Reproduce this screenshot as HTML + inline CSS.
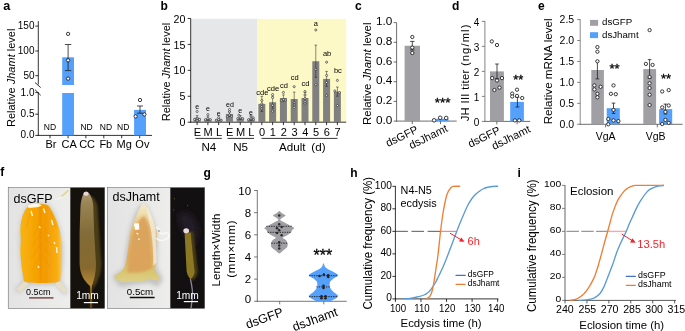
<!DOCTYPE html><html><head><meta charset="utf-8"><title>Figure</title>
<style>html,body{margin:0;padding:0;background:#fff}svg{display:block}text{font-family:'Liberation Sans', Arial, sans-serif}</style></head><body>
<svg width="685" height="331" viewBox="0 0 685 331">
<rect width="685" height="331" fill="#fff"/>
<g id="pa">
<text x="3.3" y="9.7" font-size="12.6" font-weight="bold">a</text>
<line x1="38.3" y1="21.1" x2="38.3" y2="84.6" stroke="#000" stroke-width="0.8"/>
<line x1="38.3" y1="92.2" x2="38.3" y2="135.8" stroke="#000" stroke-width="0.8"/>
<line x1="35.0" y1="82.5" x2="40.699999999999996" y2="87.6" stroke="#000" stroke-width="0.8"/>
<line x1="35.0" y1="89.7" x2="40.699999999999996" y2="95.3" stroke="#000" stroke-width="0.8"/>
<line x1="37.9" y1="135.4" x2="152" y2="135.4" stroke="#000" stroke-width="0.8"/>
<line x1="35.3" y1="26.1" x2="38.3" y2="26.1" stroke="#000" stroke-width="0.8"/>
<text x="34.5" y="29.0" font-size="10" text-anchor="end">150</text>
<line x1="35.3" y1="51" x2="38.3" y2="51" stroke="#000" stroke-width="0.8"/>
<text x="34.5" y="53.9" font-size="10" text-anchor="end">100</text>
<line x1="35.3" y1="75.7" x2="38.3" y2="75.7" stroke="#000" stroke-width="0.8"/>
<text x="34.5" y="78.60000000000001" font-size="10" text-anchor="end">50</text>
<line x1="35.3" y1="92.6" x2="38.3" y2="92.6" stroke="#000" stroke-width="0.8"/>
<text x="34.5" y="95.5" font-size="10" text-anchor="end">1.0</text>
<line x1="35.3" y1="114.2" x2="38.3" y2="114.2" stroke="#000" stroke-width="0.8"/>
<text x="34.5" y="117.10000000000001" font-size="10" text-anchor="end">0.5</text>
<line x1="35.3" y1="135.4" x2="38.3" y2="135.4" stroke="#000" stroke-width="0.8"/>
<text x="34.5" y="138.3" font-size="10" text-anchor="end">0.0</text>
<line x1="50" y1="135.4" x2="50" y2="138.3" stroke="#000" stroke-width="0.8"/>
<line x1="68.06" y1="135.4" x2="68.06" y2="138.3" stroke="#000" stroke-width="0.8"/>
<line x1="85.9" y1="135.4" x2="85.9" y2="138.3" stroke="#000" stroke-width="0.8"/>
<line x1="103.8" y1="135.4" x2="103.8" y2="138.3" stroke="#000" stroke-width="0.8"/>
<line x1="121.7" y1="135.4" x2="121.7" y2="138.3" stroke="#000" stroke-width="0.8"/>
<line x1="139.7" y1="135.4" x2="139.7" y2="138.3" stroke="#000" stroke-width="0.8"/>
<text x="50.9" y="148.3" font-size="11" text-anchor="middle">Br</text>
<text x="69.2" y="148.3" font-size="11" text-anchor="middle">CA</text>
<text x="87.1" y="148.3" font-size="11" text-anchor="middle">CC</text>
<text x="105.8" y="148.3" font-size="11" text-anchor="middle">Fb</text>
<text x="124.2" y="148.3" font-size="11" text-anchor="middle">Mg</text>
<text x="142.4" y="148.3" font-size="11" text-anchor="middle">Ov</text>
<text x="50" y="129.9" font-size="8.5" text-anchor="middle">ND</text>
<text x="86.6" y="129.9" font-size="8.5" text-anchor="middle">ND</text>
<text x="106" y="129.9" font-size="8.5" text-anchor="middle">ND</text>
<text x="123.2" y="129.9" font-size="8.5" text-anchor="middle">ND</text>
<rect x="62.20" y="57.30" width="11.80" height="27.70" fill="#54a0fb"/>
<rect x="62.20" y="93.00" width="11.80" height="42.40" fill="#54a0fb"/>
<line x1="68.1" y1="44.5" x2="68.1" y2="70.6" stroke="#1f1f1f" stroke-width="0.8"/>
<line x1="64.89999999999999" y1="44.5" x2="71.3" y2="44.5" stroke="#1f1f1f" stroke-width="0.8"/>
<line x1="64.89999999999999" y1="70.6" x2="71.3" y2="70.6" stroke="#1f1f1f" stroke-width="0.8"/>
<circle cx="68.1" cy="33.9" r="1.65" fill="#fff" stroke="#1a1a1a" stroke-width="0.85"/>
<circle cx="68.1" cy="60.3" r="1.65" fill="#fff" stroke="#1a1a1a" stroke-width="0.85"/>
<circle cx="68.1" cy="78.6" r="1.65" fill="#fff" stroke="#1a1a1a" stroke-width="0.85"/>
<rect x="134.10" y="109.90" width="11.90" height="25.50" fill="#54a0fb"/>
<line x1="140" y1="106" x2="140" y2="113.2" stroke="#1f1f1f" stroke-width="0.8"/>
<line x1="137" y1="106" x2="143" y2="106" stroke="#1f1f1f" stroke-width="0.8"/>
<line x1="137" y1="113.2" x2="143" y2="113.2" stroke="#1f1f1f" stroke-width="0.8"/>
<circle cx="140.0" cy="100.0" r="1.65" fill="#fff" stroke="#1a1a1a" stroke-width="0.85"/>
<circle cx="135.6" cy="116.4" r="1.65" fill="#fff" stroke="#1a1a1a" stroke-width="0.85"/>
<circle cx="144.4" cy="114.4" r="1.65" fill="#fff" stroke="#1a1a1a" stroke-width="0.85"/>
<text x="14.6" y="77.8" font-size="11" text-anchor="middle" transform="rotate(-90 14.6 77.8)">Relative <tspan font-style="italic">Jhamt</tspan> level</text>
</g>
<g id="pb">
<text x="160.5" y="9.6" font-size="12" font-weight="bold">b</text>
<rect x="190.70" y="18.80" width="66.30" height="103.40" fill="#e6e7e9"/>
<rect x="257.00" y="18.80" width="89.10" height="103.40" fill="#fdf9c6"/>
<line x1="190.7" y1="18.4" x2="190.7" y2="122.60000000000001" stroke="#000" stroke-width="0.8"/>
<line x1="190.29999999999998" y1="122.2" x2="346.2" y2="122.2" stroke="#000" stroke-width="0.8"/>
<line x1="187.7" y1="122.2" x2="190.7" y2="122.2" stroke="#000" stroke-width="0.8"/>
<text transform="translate(185.50 126.35) scale(1.07 1)" font-size="10" text-anchor="end">0</text>
<line x1="187.7" y1="96.27000000000001" x2="190.7" y2="96.27000000000001" stroke="#000" stroke-width="0.8"/>
<text transform="translate(185.50 100.42) scale(1.07 1)" font-size="10" text-anchor="end">5</text>
<line x1="187.7" y1="70.34" x2="190.7" y2="70.34" stroke="#000" stroke-width="0.8"/>
<text transform="translate(185.50 74.49) scale(1.07 1)" font-size="10" text-anchor="end">10</text>
<line x1="187.7" y1="44.41000000000001" x2="190.7" y2="44.41000000000001" stroke="#000" stroke-width="0.8"/>
<text transform="translate(185.50 48.56) scale(1.07 1)" font-size="10" text-anchor="end">15</text>
<line x1="187.7" y1="18.480000000000004" x2="190.7" y2="18.480000000000004" stroke="#000" stroke-width="0.8"/>
<text transform="translate(185.50 22.63) scale(1.07 1)" font-size="10" text-anchor="end">20</text>
<rect x="193.60" y="117.80" width="7.00" height="4.40" fill="#808080"/>
<line x1="197.1" y1="115.6" x2="197.1" y2="120.0" stroke="#2a2a2a" stroke-width="0.55"/>
<line x1="195.79999999999998" y1="115.6" x2="198.4" y2="115.6" stroke="#2a2a2a" stroke-width="0.55"/>
<line x1="195.79999999999998" y1="120.0" x2="198.4" y2="120.0" stroke="#2a2a2a" stroke-width="0.55"/>
<circle cx="197.1" cy="111.5" r="1.05" fill="#f4f4f4" stroke="#2a2a2a" stroke-width="0.65"/>
<circle cx="194.7" cy="119.6" r="1.05" fill="#f4f4f4" stroke="#2a2a2a" stroke-width="0.65"/>
<circle cx="197.1" cy="118.2" r="1.05" fill="#f4f4f4" stroke="#2a2a2a" stroke-width="0.65"/>
<circle cx="199.5" cy="119.6" r="1.05" fill="#f4f4f4" stroke="#2a2a2a" stroke-width="0.65"/>
<circle cx="197.1" cy="120.6" r="1.05" fill="#f4f4f4" stroke="#2a2a2a" stroke-width="0.65"/>
<line x1="197.1" y1="122.2" x2="197.1" y2="125.10000000000001" stroke="#000" stroke-width="0.8"/>
<text x="197.4" y="135.8" font-size="11" text-anchor="middle">E</text>
<text x="197.1" y="109.10000000000001" font-size="7" text-anchor="middle">e</text>
<rect x="204.39" y="118.50" width="7.00" height="3.70" fill="#808080"/>
<line x1="207.89" y1="116.7" x2="207.89" y2="120.3" stroke="#2a2a2a" stroke-width="0.55"/>
<line x1="206.58999999999997" y1="116.7" x2="209.19" y2="116.7" stroke="#2a2a2a" stroke-width="0.55"/>
<line x1="206.58999999999997" y1="120.3" x2="209.19" y2="120.3" stroke="#2a2a2a" stroke-width="0.55"/>
<circle cx="207.9" cy="114.6" r="1.05" fill="#f4f4f4" stroke="#2a2a2a" stroke-width="0.65"/>
<circle cx="205.5" cy="119.8" r="1.05" fill="#f4f4f4" stroke="#2a2a2a" stroke-width="0.65"/>
<circle cx="207.9" cy="118.6" r="1.05" fill="#f4f4f4" stroke="#2a2a2a" stroke-width="0.65"/>
<circle cx="210.3" cy="119.8" r="1.05" fill="#f4f4f4" stroke="#2a2a2a" stroke-width="0.65"/>
<line x1="207.89" y1="122.2" x2="207.89" y2="125.10000000000001" stroke="#000" stroke-width="0.8"/>
<text x="208.19" y="135.8" font-size="11" text-anchor="middle">M</text>
<text x="207.89" y="111.10000000000001" font-size="7" text-anchor="middle">e</text>
<rect x="215.18" y="119.20" width="7.00" height="3.00" fill="#808080"/>
<line x1="218.68" y1="118.0" x2="218.68" y2="120.4" stroke="#2a2a2a" stroke-width="0.55"/>
<line x1="217.38" y1="118.0" x2="219.98000000000002" y2="118.0" stroke="#2a2a2a" stroke-width="0.55"/>
<line x1="217.38" y1="120.4" x2="219.98000000000002" y2="120.4" stroke="#2a2a2a" stroke-width="0.55"/>
<circle cx="218.7" cy="117.6" r="1.05" fill="#f4f4f4" stroke="#2a2a2a" stroke-width="0.65"/>
<circle cx="216.3" cy="120.2" r="1.05" fill="#f4f4f4" stroke="#2a2a2a" stroke-width="0.65"/>
<circle cx="218.7" cy="119.6" r="1.05" fill="#f4f4f4" stroke="#2a2a2a" stroke-width="0.65"/>
<circle cx="221.1" cy="120.2" r="1.05" fill="#f4f4f4" stroke="#2a2a2a" stroke-width="0.65"/>
<line x1="218.68" y1="122.2" x2="218.68" y2="125.10000000000001" stroke="#000" stroke-width="0.8"/>
<text x="218.98000000000002" y="135.8" font-size="11" text-anchor="middle">L</text>
<text x="218.68" y="116.0" font-size="7" text-anchor="middle">e</text>
<rect x="225.97" y="113.90" width="7.00" height="8.30" fill="#808080"/>
<line x1="229.47" y1="111.30000000000001" x2="229.47" y2="116.5" stroke="#2a2a2a" stroke-width="0.55"/>
<line x1="228.17" y1="111.30000000000001" x2="230.77" y2="111.30000000000001" stroke="#2a2a2a" stroke-width="0.55"/>
<line x1="228.17" y1="116.5" x2="230.77" y2="116.5" stroke="#2a2a2a" stroke-width="0.55"/>
<circle cx="229.5" cy="109.4" r="1.05" fill="#f4f4f4" stroke="#2a2a2a" stroke-width="0.65"/>
<circle cx="229.5" cy="111.8" r="1.05" fill="#f4f4f4" stroke="#2a2a2a" stroke-width="0.65"/>
<circle cx="227.3" cy="116.8" r="1.05" fill="#f4f4f4" stroke="#2a2a2a" stroke-width="0.65"/>
<circle cx="231.7" cy="116.2" r="1.05" fill="#f4f4f4" stroke="#2a2a2a" stroke-width="0.65"/>
<circle cx="229.5" cy="115.0" r="1.05" fill="#f4f4f4" stroke="#2a2a2a" stroke-width="0.65"/>
<line x1="229.47" y1="122.2" x2="229.47" y2="125.10000000000001" stroke="#000" stroke-width="0.8"/>
<text x="229.77" y="135.8" font-size="11" text-anchor="middle">E</text>
<text x="229.97" y="107.2" font-size="7" text-anchor="middle">ed</text>
<rect x="236.76" y="117.50" width="7.00" height="4.70" fill="#808080"/>
<line x1="240.26" y1="115.5" x2="240.26" y2="119.5" stroke="#2a2a2a" stroke-width="0.55"/>
<line x1="238.95999999999998" y1="115.5" x2="241.56" y2="115.5" stroke="#2a2a2a" stroke-width="0.55"/>
<line x1="238.95999999999998" y1="119.5" x2="241.56" y2="119.5" stroke="#2a2a2a" stroke-width="0.55"/>
<circle cx="238.8" cy="115.2" r="1.05" fill="#f4f4f4" stroke="#2a2a2a" stroke-width="0.65"/>
<circle cx="237.9" cy="118.6" r="1.05" fill="#f4f4f4" stroke="#2a2a2a" stroke-width="0.65"/>
<circle cx="240.3" cy="117.8" r="1.05" fill="#f4f4f4" stroke="#2a2a2a" stroke-width="0.65"/>
<circle cx="242.7" cy="118.8" r="1.05" fill="#f4f4f4" stroke="#2a2a2a" stroke-width="0.65"/>
<line x1="240.26" y1="122.2" x2="240.26" y2="125.10000000000001" stroke="#000" stroke-width="0.8"/>
<text x="240.56" y="135.8" font-size="11" text-anchor="middle">M</text>
<text x="240.26" y="113.2" font-size="7" text-anchor="middle">e</text>
<rect x="247.55" y="118.50" width="7.00" height="3.70" fill="#808080"/>
<line x1="251.04999999999998" y1="116.3" x2="251.04999999999998" y2="120.7" stroke="#2a2a2a" stroke-width="0.55"/>
<line x1="249.74999999999997" y1="116.3" x2="252.35" y2="116.3" stroke="#2a2a2a" stroke-width="0.55"/>
<line x1="249.74999999999997" y1="120.7" x2="252.35" y2="120.7" stroke="#2a2a2a" stroke-width="0.55"/>
<circle cx="251.0" cy="116.0" r="1.05" fill="#f4f4f4" stroke="#2a2a2a" stroke-width="0.65"/>
<circle cx="253.2" cy="117.8" r="1.05" fill="#f4f4f4" stroke="#2a2a2a" stroke-width="0.65"/>
<circle cx="248.6" cy="119.8" r="1.05" fill="#f4f4f4" stroke="#2a2a2a" stroke-width="0.65"/>
<circle cx="253.4" cy="119.8" r="1.05" fill="#f4f4f4" stroke="#2a2a2a" stroke-width="0.65"/>
<circle cx="251.0" cy="118.8" r="1.05" fill="#f4f4f4" stroke="#2a2a2a" stroke-width="0.65"/>
<line x1="251.04999999999998" y1="122.2" x2="251.04999999999998" y2="125.10000000000001" stroke="#000" stroke-width="0.8"/>
<text x="251.35" y="135.8" font-size="11" text-anchor="middle">L</text>
<text x="251.04999999999998" y="114.60000000000001" font-size="7" text-anchor="middle">e</text>
<rect x="258.34" y="103.90" width="7.00" height="18.30" fill="#808080"/>
<line x1="261.84" y1="96.30000000000001" x2="261.84" y2="111.5" stroke="#2a2a2a" stroke-width="0.55"/>
<line x1="260.53999999999996" y1="96.30000000000001" x2="263.14" y2="96.30000000000001" stroke="#2a2a2a" stroke-width="0.55"/>
<line x1="260.53999999999996" y1="111.5" x2="263.14" y2="111.5" stroke="#2a2a2a" stroke-width="0.55"/>
<circle cx="261.8" cy="100.4" r="1.05" fill="#f4f4f4" stroke="#2a2a2a" stroke-width="0.65"/>
<circle cx="261.8" cy="103.9" r="1.05" fill="#f4f4f4" stroke="#2a2a2a" stroke-width="0.65"/>
<circle cx="261.8" cy="106.4" r="1.05" fill="#f4f4f4" stroke="#2a2a2a" stroke-width="0.65"/>
<circle cx="261.8" cy="108.8" r="1.05" fill="#f4f4f4" stroke="#2a2a2a" stroke-width="0.65"/>
<line x1="261.84" y1="122.2" x2="261.84" y2="125.10000000000001" stroke="#000" stroke-width="0.8"/>
<text x="262.14" y="135.8" font-size="11" text-anchor="middle">0</text>
<text x="262.34" y="94.60000000000001" font-size="7.5" text-anchor="middle">cde</text>
<rect x="269.13" y="102.20" width="7.00" height="20.00" fill="#808080"/>
<line x1="272.63" y1="96.2" x2="272.63" y2="108.2" stroke="#2a2a2a" stroke-width="0.55"/>
<line x1="271.33" y1="96.2" x2="273.93" y2="96.2" stroke="#2a2a2a" stroke-width="0.55"/>
<line x1="271.33" y1="108.2" x2="273.93" y2="108.2" stroke="#2a2a2a" stroke-width="0.55"/>
<circle cx="272.6" cy="94.6" r="1.05" fill="#f4f4f4" stroke="#2a2a2a" stroke-width="0.65"/>
<circle cx="272.6" cy="97.6" r="1.05" fill="#f4f4f4" stroke="#2a2a2a" stroke-width="0.65"/>
<circle cx="272.6" cy="105.3" r="1.05" fill="#f4f4f4" stroke="#2a2a2a" stroke-width="0.65"/>
<circle cx="272.6" cy="111.2" r="1.05" fill="#f4f4f4" stroke="#2a2a2a" stroke-width="0.65"/>
<line x1="272.63" y1="122.2" x2="272.63" y2="125.10000000000001" stroke="#000" stroke-width="0.8"/>
<text x="272.93" y="135.8" font-size="11" text-anchor="middle">1</text>
<text x="273.13" y="90.80000000000001" font-size="7.5" text-anchor="middle">cde</text>
<rect x="279.92" y="98.00" width="7.00" height="24.20" fill="#808080"/>
<line x1="283.41999999999996" y1="94.9" x2="283.41999999999996" y2="101.1" stroke="#2a2a2a" stroke-width="0.55"/>
<line x1="282.11999999999995" y1="94.9" x2="284.71999999999997" y2="94.9" stroke="#2a2a2a" stroke-width="0.55"/>
<line x1="282.11999999999995" y1="101.1" x2="284.71999999999997" y2="101.1" stroke="#2a2a2a" stroke-width="0.55"/>
<circle cx="283.4" cy="92.4" r="1.05" fill="#f4f4f4" stroke="#2a2a2a" stroke-width="0.65"/>
<circle cx="281.3" cy="100.8" r="1.05" fill="#f4f4f4" stroke="#2a2a2a" stroke-width="0.65"/>
<circle cx="283.4" cy="99.7" r="1.05" fill="#f4f4f4" stroke="#2a2a2a" stroke-width="0.65"/>
<circle cx="285.5" cy="100.0" r="1.05" fill="#f4f4f4" stroke="#2a2a2a" stroke-width="0.65"/>
<line x1="283.41999999999996" y1="122.2" x2="283.41999999999996" y2="125.10000000000001" stroke="#000" stroke-width="0.8"/>
<text x="283.71999999999997" y="135.8" font-size="11" text-anchor="middle">2</text>
<text x="283.91999999999996" y="88.4" font-size="7.5" text-anchor="middle">cd</text>
<rect x="290.71" y="99.00" width="7.00" height="23.20" fill="#808080"/>
<line x1="294.21" y1="92.1" x2="294.21" y2="105.9" stroke="#2a2a2a" stroke-width="0.55"/>
<line x1="292.90999999999997" y1="92.1" x2="295.51" y2="92.1" stroke="#2a2a2a" stroke-width="0.55"/>
<line x1="292.90999999999997" y1="105.9" x2="295.51" y2="105.9" stroke="#2a2a2a" stroke-width="0.55"/>
<circle cx="294.2" cy="86.7" r="1.05" fill="#f4f4f4" stroke="#2a2a2a" stroke-width="0.65"/>
<circle cx="294.2" cy="102.8" r="1.05" fill="#f4f4f4" stroke="#2a2a2a" stroke-width="0.65"/>
<circle cx="294.2" cy="105.0" r="1.05" fill="#f4f4f4" stroke="#2a2a2a" stroke-width="0.65"/>
<circle cx="294.2" cy="107.4" r="1.05" fill="#f4f4f4" stroke="#2a2a2a" stroke-width="0.65"/>
<line x1="294.21" y1="122.2" x2="294.21" y2="125.10000000000001" stroke="#000" stroke-width="0.8"/>
<text x="294.51" y="135.8" font-size="11" text-anchor="middle">3</text>
<text x="294.71" y="80.4" font-size="7.5" text-anchor="middle">cd</text>
<rect x="301.50" y="98.00" width="7.00" height="24.20" fill="#808080"/>
<line x1="305.0" y1="92.5" x2="305.0" y2="103.5" stroke="#2a2a2a" stroke-width="0.55"/>
<line x1="303.7" y1="92.5" x2="306.3" y2="92.5" stroke="#2a2a2a" stroke-width="0.55"/>
<line x1="303.7" y1="103.5" x2="306.3" y2="103.5" stroke="#2a2a2a" stroke-width="0.55"/>
<circle cx="305.0" cy="91.5" r="1.05" fill="#f4f4f4" stroke="#2a2a2a" stroke-width="0.65"/>
<circle cx="305.0" cy="95.0" r="1.05" fill="#f4f4f4" stroke="#2a2a2a" stroke-width="0.65"/>
<circle cx="305.0" cy="98.5" r="1.05" fill="#f4f4f4" stroke="#2a2a2a" stroke-width="0.65"/>
<circle cx="305.0" cy="101.4" r="1.05" fill="#f4f4f4" stroke="#2a2a2a" stroke-width="0.65"/>
<circle cx="305.0" cy="103.9" r="1.05" fill="#f4f4f4" stroke="#2a2a2a" stroke-width="0.65"/>
<line x1="305.0" y1="122.2" x2="305.0" y2="125.10000000000001" stroke="#000" stroke-width="0.8"/>
<text x="305.3" y="135.8" font-size="11" text-anchor="middle">4</text>
<text x="305.5" y="85.7" font-size="7.5" text-anchor="middle">cd</text>
<rect x="312.29" y="61.25" width="7.00" height="60.95" fill="#808080"/>
<line x1="315.78999999999996" y1="45.15" x2="315.78999999999996" y2="77.35" stroke="#2a2a2a" stroke-width="0.55"/>
<line x1="314.48999999999995" y1="45.15" x2="317.09" y2="45.15" stroke="#2a2a2a" stroke-width="0.55"/>
<line x1="314.48999999999995" y1="77.35" x2="317.09" y2="77.35" stroke="#2a2a2a" stroke-width="0.55"/>
<circle cx="315.8" cy="30.0" r="1.05" fill="#f4f4f4" stroke="#2a2a2a" stroke-width="0.65"/>
<circle cx="315.8" cy="69.3" r="1.05" fill="#f4f4f4" stroke="#2a2a2a" stroke-width="0.65"/>
<circle cx="315.8" cy="84.6" r="1.05" fill="#f4f4f4" stroke="#2a2a2a" stroke-width="0.65"/>
<line x1="315.78999999999996" y1="122.2" x2="315.78999999999996" y2="125.10000000000001" stroke="#000" stroke-width="0.8"/>
<text x="316.09" y="135.8" font-size="11" text-anchor="middle">5</text>
<text x="315.78999999999996" y="26.0" font-size="7.5" text-anchor="middle">a</text>
<rect x="323.08" y="78.90" width="7.00" height="43.30" fill="#808080"/>
<line x1="326.58" y1="71.4" x2="326.58" y2="86.4" stroke="#2a2a2a" stroke-width="0.55"/>
<line x1="325.28" y1="71.4" x2="327.88" y2="71.4" stroke="#2a2a2a" stroke-width="0.55"/>
<line x1="325.28" y1="86.4" x2="327.88" y2="86.4" stroke="#2a2a2a" stroke-width="0.55"/>
<circle cx="326.6" cy="62.2" r="1.05" fill="#f4f4f4" stroke="#2a2a2a" stroke-width="0.65"/>
<circle cx="326.6" cy="75.5" r="1.05" fill="#f4f4f4" stroke="#2a2a2a" stroke-width="0.65"/>
<circle cx="326.6" cy="82.5" r="1.05" fill="#f4f4f4" stroke="#2a2a2a" stroke-width="0.65"/>
<circle cx="326.6" cy="95.3" r="1.05" fill="#f4f4f4" stroke="#2a2a2a" stroke-width="0.65"/>
<line x1="326.58" y1="122.2" x2="326.58" y2="125.10000000000001" stroke="#000" stroke-width="0.8"/>
<text x="326.88" y="135.8" font-size="11" text-anchor="middle">6</text>
<text x="327.08" y="56.15" font-size="7.5" text-anchor="middle">ab</text>
<rect x="333.87" y="91.60" width="7.00" height="30.60" fill="#808080"/>
<line x1="337.37" y1="87.0" x2="337.37" y2="96.19999999999999" stroke="#2a2a2a" stroke-width="0.55"/>
<line x1="336.07" y1="87.0" x2="338.67" y2="87.0" stroke="#2a2a2a" stroke-width="0.55"/>
<line x1="336.07" y1="96.19999999999999" x2="338.67" y2="96.19999999999999" stroke="#2a2a2a" stroke-width="0.55"/>
<circle cx="337.4" cy="80.4" r="1.05" fill="#f4f4f4" stroke="#2a2a2a" stroke-width="0.65"/>
<circle cx="334.8" cy="91.0" r="1.05" fill="#f4f4f4" stroke="#2a2a2a" stroke-width="0.65"/>
<circle cx="339.4" cy="92.7" r="1.05" fill="#f4f4f4" stroke="#2a2a2a" stroke-width="0.65"/>
<circle cx="337.4" cy="105.5" r="1.05" fill="#f4f4f4" stroke="#2a2a2a" stroke-width="0.65"/>
<line x1="337.37" y1="122.2" x2="337.37" y2="125.10000000000001" stroke="#000" stroke-width="0.8"/>
<text x="337.67" y="135.8" font-size="11" text-anchor="middle">7</text>
<text x="337.87" y="73.2" font-size="7.5" text-anchor="middle">bc</text>
<line x1="195.4" y1="138.4" x2="221.8" y2="138.4" stroke="#000" stroke-width="0.8"/>
<line x1="227.5" y1="138.4" x2="254" y2="138.4" stroke="#000" stroke-width="0.8"/>
<line x1="261.5" y1="138.4" x2="337.5" y2="138.4" stroke="#000" stroke-width="0.8"/>
<text x="208.8" y="150.5" font-size="11.6" text-anchor="middle">N4</text>
<text x="240.6" y="150.5" font-size="11.6" text-anchor="middle">N5</text>
<text x="302.3" y="150.5" font-size="11.6" text-anchor="middle" word-spacing="2.6">Adult (d)</text>
<text x="170.4" y="72" font-size="11" text-anchor="middle" transform="rotate(-90 170.4 72)">Relative <tspan font-style="italic">Jhamt</tspan> level</text>
</g>
<g id="pc">
<text x="355" y="9.6" font-size="12" font-weight="bold">c</text>
<line x1="396.6" y1="22.7" x2="396.6" y2="121.5" stroke="#4a4a4a" stroke-width="0.8"/>
<line x1="396.20000000000005" y1="121.1" x2="456.7" y2="121.1" stroke="#4a4a4a" stroke-width="0.8"/>
<line x1="393.6" y1="121.1" x2="396.6" y2="121.1" stroke="#4a4a4a" stroke-width="0.8"/>
<text transform="translate(392.40 123.6) scale(1.12 1)" font-size="10.5" text-anchor="end">0.0</text>
<line x1="393.6" y1="101.39999999999999" x2="396.6" y2="101.39999999999999" stroke="#4a4a4a" stroke-width="0.8"/>
<text transform="translate(392.40 103.9) scale(1.12 1)" font-size="10.5" text-anchor="end">0.2</text>
<line x1="393.6" y1="81.69999999999999" x2="396.6" y2="81.69999999999999" stroke="#4a4a4a" stroke-width="0.8"/>
<text transform="translate(392.40 84.2) scale(1.12 1)" font-size="10.5" text-anchor="end">0.4</text>
<line x1="393.6" y1="62.00000000000001" x2="396.6" y2="62.00000000000001" stroke="#4a4a4a" stroke-width="0.8"/>
<text transform="translate(392.40 64.5) scale(1.12 1)" font-size="10.5" text-anchor="end">0.6</text>
<line x1="393.6" y1="42.3" x2="396.6" y2="42.3" stroke="#4a4a4a" stroke-width="0.8"/>
<text transform="translate(392.40 44.8) scale(1.12 1)" font-size="10.5" text-anchor="end">0.8</text>
<line x1="393.6" y1="22.60000000000001" x2="396.6" y2="22.60000000000001" stroke="#4a4a4a" stroke-width="0.8"/>
<text transform="translate(392.40 25.1) scale(1.12 1)" font-size="10.5" text-anchor="end">1.0</text>
<rect x="404.60" y="45.75" width="15.40" height="75.35" fill="#a0a0a4"/>
<line x1="412.3" y1="41.4" x2="412.3" y2="50" stroke="#1f1f1f" stroke-width="0.8"/>
<line x1="410.1" y1="41.4" x2="414.5" y2="41.4" stroke="#1f1f1f" stroke-width="0.8"/>
<line x1="410.1" y1="50" x2="414.5" y2="50" stroke="#1f1f1f" stroke-width="0.8"/>
<circle cx="412.3" cy="37.0" r="1.65" fill="#fff" stroke="#1a1a1a" stroke-width="0.85"/>
<circle cx="412.3" cy="47.6" r="1.65" fill="#fff" stroke="#1a1a1a" stroke-width="0.85"/>
<circle cx="412.3" cy="53.0" r="1.65" fill="#fff" stroke="#1a1a1a" stroke-width="0.85"/>
<rect x="436.10" y="118.80" width="12.40" height="2.30" fill="#54a0fb"/>
<circle cx="434.1" cy="120.3" r="1.8" fill="#fff" stroke="#1a1a1a" stroke-width="0.85"/>
<circle cx="440.2" cy="117.8" r="1.8" fill="#fff" stroke="#1a1a1a" stroke-width="0.85"/>
<circle cx="446.2" cy="118.0" r="1.8" fill="#fff" stroke="#1a1a1a" stroke-width="0.85"/>
<line x1="412.3" y1="121.1" x2="412.3" y2="124.1" stroke="#4a4a4a" stroke-width="0.8"/>
<line x1="440.5" y1="121.1" x2="440.5" y2="124.1" stroke="#4a4a4a" stroke-width="0.8"/>
<text x="442.6" y="107.3" font-size="13.5" text-anchor="middle" stroke="#000" stroke-width="0.3">***</text>
<text x="418.8" y="132" font-size="11" text-anchor="end" transform="rotate(-26 418.8 132)">dsGFP</text>
<text x="448.6" y="131" font-size="11" text-anchor="end" transform="rotate(-26 448.6 131)">dsJhamt</text>
<text transform="translate(371.2 73.75) rotate(-90) scale(0.995 1)" font-size="11.5" text-anchor="middle">Relative <tspan font-style="italic">Jhamt</tspan> level</text>
</g>
<g id="pd">
<text x="452" y="9.6" font-size="12" font-weight="bold">d</text>
<line x1="484.9" y1="21.1" x2="484.9" y2="121.80000000000001" stroke="#666" stroke-width="0.8"/>
<line x1="484.5" y1="121.4" x2="530.2" y2="121.4" stroke="#4a4a4a" stroke-width="0.8"/>
<line x1="481.9" y1="121.4" x2="484.9" y2="121.4" stroke="#666" stroke-width="0.8"/>
<text x="479.29999999999995" y="125.75" font-size="10" text-anchor="end">0</text>
<line x1="481.9" y1="96.4" x2="484.9" y2="96.4" stroke="#666" stroke-width="0.8"/>
<text x="479.29999999999995" y="100.75" font-size="10" text-anchor="end">1</text>
<line x1="481.9" y1="71.4" x2="484.9" y2="71.4" stroke="#666" stroke-width="0.8"/>
<text x="479.29999999999995" y="75.75" font-size="10" text-anchor="end">2</text>
<line x1="481.9" y1="46.400000000000006" x2="484.9" y2="46.400000000000006" stroke="#666" stroke-width="0.8"/>
<text x="479.29999999999995" y="50.75" font-size="10" text-anchor="end">3</text>
<line x1="481.9" y1="21.400000000000006" x2="484.9" y2="21.400000000000006" stroke="#666" stroke-width="0.8"/>
<text x="479.29999999999995" y="25.75" font-size="10" text-anchor="end">4</text>
<rect x="490.00" y="71.40" width="13.90" height="50.00" fill="#a0a0a4"/>
<line x1="497" y1="64" x2="497" y2="78.6" stroke="#1f1f1f" stroke-width="0.8"/>
<line x1="495.2" y1="64" x2="498.8" y2="64" stroke="#1f1f1f" stroke-width="0.8"/>
<line x1="495.2" y1="78.6" x2="498.8" y2="78.6" stroke="#1f1f1f" stroke-width="0.8"/>
<circle cx="491.8" cy="41.4" r="1.65" fill="#fff" stroke="#1a1a1a" stroke-width="0.85"/>
<circle cx="497.0" cy="45.0" r="1.65" fill="#fff" stroke="#1a1a1a" stroke-width="0.85"/>
<circle cx="492.2" cy="78.1" r="1.65" fill="#fff" stroke="#1a1a1a" stroke-width="0.85"/>
<circle cx="497.0" cy="80.5" r="1.65" fill="#fff" stroke="#1a1a1a" stroke-width="0.85"/>
<circle cx="502.0" cy="78.1" r="1.65" fill="#fff" stroke="#1a1a1a" stroke-width="0.85"/>
<circle cx="494.4" cy="90.0" r="1.65" fill="#fff" stroke="#1a1a1a" stroke-width="0.85"/>
<circle cx="499.5" cy="87.6" r="1.65" fill="#fff" stroke="#1a1a1a" stroke-width="0.85"/>
<rect x="510.20" y="101.90" width="13.70" height="19.50" fill="#54a0fb"/>
<line x1="517.4" y1="97.3" x2="517.4" y2="107" stroke="#1f1f1f" stroke-width="0.8"/>
<line x1="515.4" y1="97.3" x2="519.4" y2="97.3" stroke="#1f1f1f" stroke-width="0.8"/>
<line x1="515.4" y1="107" x2="519.4" y2="107" stroke="#1f1f1f" stroke-width="0.8"/>
<circle cx="517.0" cy="89.7" r="1.65" fill="#fff" stroke="#1a1a1a" stroke-width="0.85"/>
<circle cx="512.2" cy="93.6" r="1.65" fill="#fff" stroke="#1a1a1a" stroke-width="0.85"/>
<circle cx="512.2" cy="96.5" r="1.65" fill="#fff" stroke="#1a1a1a" stroke-width="0.85"/>
<circle cx="517.0" cy="95.9" r="1.65" fill="#fff" stroke="#1a1a1a" stroke-width="0.85"/>
<circle cx="522.2" cy="98.0" r="1.65" fill="#fff" stroke="#1a1a1a" stroke-width="0.85"/>
<circle cx="514.9" cy="120.4" r="1.65" fill="#fff" stroke="#1a1a1a" stroke-width="0.85"/>
<circle cx="519.2" cy="120.4" r="1.65" fill="#fff" stroke="#1a1a1a" stroke-width="0.85"/>
<line x1="496.8" y1="121.4" x2="496.8" y2="124.4" stroke="#4a4a4a" stroke-width="0.8"/>
<line x1="517.1" y1="121.4" x2="517.1" y2="124.4" stroke="#4a4a4a" stroke-width="0.8"/>
<text x="518.2" y="83.6" font-size="13" text-anchor="middle" stroke="#000" stroke-width="0.3">**</text>
<text x="501" y="132.8" font-size="11" text-anchor="end" transform="rotate(-26 501 132.8)">dsGFP</text>
<text x="531.3" y="131.7" font-size="11" text-anchor="end" transform="rotate(-26 531.3 131.7)">dsJhamt</text>
<text x="469.4" y="72.4" font-size="11.2" text-anchor="middle" transform="rotate(-90 469.4 72.4)" letter-spacing="0.33">JH III titer <tspan letter-spacing="1.1">(ng/ml)</tspan></text>
</g>
<g id="pe">
<text x="538" y="9.6" font-size="12" font-weight="bold">e</text>
<line x1="580.2" y1="19.1" x2="580.2" y2="124.7" stroke="#8c8c8c" stroke-width="1.0"/>
<line x1="579.8000000000001" y1="124.3" x2="682.7" y2="124.3" stroke="#4a4a4a" stroke-width="0.8"/>
<line x1="577.2" y1="124.3" x2="580.2" y2="124.3" stroke="#666" stroke-width="0.8"/>
<text transform="translate(574.20 127.9) scale(1.05 1)" font-size="10" text-anchor="end">0.0</text>
<line x1="577.2" y1="103.35" x2="580.2" y2="103.35" stroke="#666" stroke-width="0.8"/>
<text transform="translate(574.20 106.95) scale(1.05 1)" font-size="10" text-anchor="end">0.5</text>
<line x1="577.2" y1="82.4" x2="580.2" y2="82.4" stroke="#666" stroke-width="0.8"/>
<text transform="translate(574.20 86.0) scale(1.05 1)" font-size="10" text-anchor="end">1.0</text>
<line x1="577.2" y1="61.45" x2="580.2" y2="61.45" stroke="#666" stroke-width="0.8"/>
<text transform="translate(574.20 65.05) scale(1.05 1)" font-size="10" text-anchor="end">1.5</text>
<line x1="577.2" y1="40.5" x2="580.2" y2="40.5" stroke="#666" stroke-width="0.8"/>
<text transform="translate(574.20 44.1) scale(1.05 1)" font-size="10" text-anchor="end">2.0</text>
<line x1="577.2" y1="19.549999999999997" x2="580.2" y2="19.549999999999997" stroke="#666" stroke-width="0.8"/>
<text transform="translate(574.20 23.15) scale(1.05 1)" font-size="10" text-anchor="end">2.5</text>
<rect x="591.30" y="70.00" width="12.60" height="54.30" fill="#a0a0a4"/>
<rect x="606.70" y="108.20" width="13.10" height="16.10" fill="#54a0fb"/>
<rect x="643.30" y="69.10" width="12.80" height="55.20" fill="#a0a0a4"/>
<rect x="659.10" y="109.10" width="13.10" height="15.20" fill="#54a0fb"/>
<line x1="597.4" y1="61.3" x2="597.4" y2="78.9" stroke="#1f1f1f" stroke-width="0.8"/>
<line x1="595.6" y1="61.3" x2="599.1999999999999" y2="61.3" stroke="#1f1f1f" stroke-width="0.8"/>
<line x1="595.6" y1="78.9" x2="599.1999999999999" y2="78.9" stroke="#1f1f1f" stroke-width="0.8"/>
<line x1="613.5" y1="103.1" x2="613.5" y2="113.4" stroke="#1f1f1f" stroke-width="0.8"/>
<line x1="611.7" y1="103.1" x2="615.3" y2="103.1" stroke="#1f1f1f" stroke-width="0.8"/>
<line x1="611.7" y1="113.4" x2="615.3" y2="113.4" stroke="#1f1f1f" stroke-width="0.8"/>
<line x1="649.6" y1="59.6" x2="649.6" y2="78.5" stroke="#1f1f1f" stroke-width="0.8"/>
<line x1="647.8000000000001" y1="59.6" x2="651.4" y2="59.6" stroke="#1f1f1f" stroke-width="0.8"/>
<line x1="647.8000000000001" y1="78.5" x2="651.4" y2="78.5" stroke="#1f1f1f" stroke-width="0.8"/>
<line x1="665.4" y1="104.1" x2="665.4" y2="114" stroke="#1f1f1f" stroke-width="0.8"/>
<line x1="663.6" y1="104.1" x2="667.1999999999999" y2="104.1" stroke="#1f1f1f" stroke-width="0.8"/>
<line x1="663.6" y1="114" x2="667.1999999999999" y2="114" stroke="#1f1f1f" stroke-width="0.8"/>
<circle cx="597.4" cy="47.1" r="1.65" fill="#fff" stroke="#1a1a1a" stroke-width="0.85"/>
<circle cx="597.4" cy="51.7" r="1.65" fill="#fff" stroke="#1a1a1a" stroke-width="0.85"/>
<circle cx="597.4" cy="61.3" r="1.65" fill="#fff" stroke="#1a1a1a" stroke-width="0.85"/>
<circle cx="594.4" cy="85.4" r="1.65" fill="#fff" stroke="#1a1a1a" stroke-width="0.85"/>
<circle cx="600.6" cy="86.8" r="1.65" fill="#fff" stroke="#1a1a1a" stroke-width="0.85"/>
<circle cx="594.4" cy="89.4" r="1.65" fill="#fff" stroke="#1a1a1a" stroke-width="0.85"/>
<circle cx="597.4" cy="93.8" r="1.65" fill="#fff" stroke="#1a1a1a" stroke-width="0.85"/>
<circle cx="597.4" cy="97.3" r="1.65" fill="#fff" stroke="#1a1a1a" stroke-width="0.85"/>
<circle cx="613.5" cy="85.4" r="1.65" fill="#fff" stroke="#1a1a1a" stroke-width="0.85"/>
<circle cx="610.9" cy="93.8" r="1.65" fill="#fff" stroke="#1a1a1a" stroke-width="0.85"/>
<circle cx="615.8" cy="94.2" r="1.65" fill="#fff" stroke="#1a1a1a" stroke-width="0.85"/>
<circle cx="613.5" cy="109.9" r="1.65" fill="#fff" stroke="#1a1a1a" stroke-width="0.85"/>
<circle cx="608.3" cy="119.0" r="1.65" fill="#fff" stroke="#1a1a1a" stroke-width="0.85"/>
<circle cx="613.5" cy="120.4" r="1.65" fill="#fff" stroke="#1a1a1a" stroke-width="0.85"/>
<circle cx="618.4" cy="121.1" r="1.65" fill="#fff" stroke="#1a1a1a" stroke-width="0.85"/>
<circle cx="608.3" cy="124.3" r="1.65" fill="#fff" stroke="#1a1a1a" stroke-width="0.85"/>
<circle cx="649.6" cy="30.1" r="1.65" fill="#fff" stroke="#1a1a1a" stroke-width="0.85"/>
<circle cx="645.9" cy="63.9" r="1.65" fill="#fff" stroke="#1a1a1a" stroke-width="0.85"/>
<circle cx="652.6" cy="64.9" r="1.65" fill="#fff" stroke="#1a1a1a" stroke-width="0.85"/>
<circle cx="649.6" cy="77.0" r="1.65" fill="#fff" stroke="#1a1a1a" stroke-width="0.85"/>
<circle cx="649.6" cy="83.3" r="1.65" fill="#fff" stroke="#1a1a1a" stroke-width="0.85"/>
<circle cx="649.6" cy="88.0" r="1.65" fill="#fff" stroke="#1a1a1a" stroke-width="0.85"/>
<circle cx="649.6" cy="94.7" r="1.65" fill="#fff" stroke="#1a1a1a" stroke-width="0.85"/>
<circle cx="649.6" cy="105.0" r="1.65" fill="#fff" stroke="#1a1a1a" stroke-width="0.85"/>
<circle cx="662.2" cy="91.5" r="1.65" fill="#fff" stroke="#1a1a1a" stroke-width="0.85"/>
<circle cx="668.7" cy="90.1" r="1.65" fill="#fff" stroke="#1a1a1a" stroke-width="0.85"/>
<circle cx="662.2" cy="107.4" r="1.65" fill="#fff" stroke="#1a1a1a" stroke-width="0.85"/>
<circle cx="668.7" cy="105.5" r="1.65" fill="#fff" stroke="#1a1a1a" stroke-width="0.85"/>
<circle cx="665.4" cy="111.9" r="1.65" fill="#fff" stroke="#1a1a1a" stroke-width="0.85"/>
<circle cx="665.4" cy="119.9" r="1.65" fill="#fff" stroke="#1a1a1a" stroke-width="0.85"/>
<circle cx="662.2" cy="124.0" r="1.65" fill="#fff" stroke="#1a1a1a" stroke-width="0.85"/>
<circle cx="668.7" cy="122.9" r="1.65" fill="#fff" stroke="#1a1a1a" stroke-width="0.85"/>
<line x1="605.6" y1="124.3" x2="605.6" y2="127.3" stroke="#4a4a4a" stroke-width="0.8"/>
<line x1="657.3" y1="124.3" x2="657.3" y2="127.3" stroke="#4a4a4a" stroke-width="0.8"/>
<text x="605.6" y="139.7" font-size="10.5" text-anchor="middle">VgA</text>
<text x="655.6" y="139.7" font-size="10.5" text-anchor="middle">VgB</text>
<text x="614.6" y="73.1" font-size="13" text-anchor="middle" stroke="#000" stroke-width="0.3">**</text>
<text x="666.1" y="82.8" font-size="13" text-anchor="middle" stroke="#000" stroke-width="0.3">**</text>
<rect x="590.00" y="19.90" width="8.10" height="5.90" fill="#a0a0a4"/>
<rect x="590.00" y="32.20" width="8.10" height="5.90" fill="#54a0fb"/>
<text x="602" y="25.4" font-size="9.7">dsGFP</text>
<text x="602" y="37.8" font-size="9.7">dsJhamt</text>
<text transform="translate(551.9 71.4) rotate(-90) scale(0.985 1)" font-size="11.8" text-anchor="middle">Relative mRNA level</text>
</g>
<g id="pf">
<defs>
<filter id="b1" x="-30%" y="-30%" width="160%" height="160%"><feGaussianBlur stdDeviation="1.1"/></filter>
<filter id="b2" x="-30%" y="-30%" width="160%" height="160%"><feGaussianBlur stdDeviation="2"/></filter>
<filter id="b3" x="-30%" y="-30%" width="160%" height="160%"><feGaussianBlur stdDeviation="3"/></filter>
<filter id="b05" x="-30%" y="-30%" width="160%" height="160%"><feGaussianBlur stdDeviation="0.55"/></filter>
<linearGradient id="gBg" x1="0" y1="0" x2="1" y2="0"><stop offset="0" stop-color="#e3e3e3"/><stop offset="1" stop-color="#ededec"/></linearGradient>
<linearGradient id="gOr" x1="0" y1="0" x2="1" y2="0"><stop offset="0" stop-color="#f8b408"/><stop offset="0.35" stop-color="#f6a306"/><stop offset="0.6" stop-color="#f39a04"/><stop offset="0.88" stop-color="#f8ae10"/><stop offset="1" stop-color="#f3c864"/></linearGradient>
<linearGradient id="gOl" x1="0" y1="0" x2="0" y2="1"><stop offset="0" stop-color="#b09a78"/><stop offset="0.1" stop-color="#9a8454"/><stop offset="0.35" stop-color="#826c38"/><stop offset="0.65" stop-color="#86692e"/><stop offset="0.8" stop-color="#b58834"/><stop offset="0.83" stop-color="#8a6420"/><stop offset="1" stop-color="#6e4c16"/></linearGradient>
<linearGradient id="gPk" x1="0" y1="0" x2="0" y2="1"><stop offset="0" stop-color="#f1ead0"/><stop offset="0.12" stop-color="#efe0b0"/><stop offset="0.3" stop-color="#e6c27a"/><stop offset="0.7" stop-color="#deae62"/><stop offset="0.86" stop-color="#d9c570"/><stop offset="1" stop-color="#ddd08a"/></linearGradient>
<clipPath id="c1"><rect x="8.2" y="187.6" width="62.1" height="120.8"/></clipPath>
<clipPath id="c2"><rect x="70.3" y="187.6" width="34.4" height="120.8"/></clipPath>
<clipPath id="c3"><rect x="107.6" y="187.6" width="62.7" height="120.8"/></clipPath>
<clipPath id="c4"><rect x="170.3" y="187.6" width="34.4" height="120.8"/></clipPath>
</defs>
<text x="0.3" y="175.5" font-size="12" font-weight="bold">f</text>
<rect x="8.20" y="187.60" width="62.10" height="120.80" fill="url(#gBg)"/>
<g clip-path="url(#c1)">
<path d="M29 205 C34 202.5 44 202.5 48 204.5 C54 210 60 224 62 240 C64 252 63 268 61 281 L68 292 L64 295 L56 285 L28 285 L19 293 L15 289 L23 281 C21 268 19.5 252 19.5 236 C19.5 224 23 211 29 205Z" fill="#bdbdbd" filter="url(#b2)" opacity="0.8"/>
<path d="M24 281 L16.5 289 L19.5 292.5 L29 284Z M59.5 280 L67.5 291 L64 293.5 L55 284Z" fill="#e6dfc6" filter="url(#b05)"/>
<path d="M29 205.6 C33 203.8 43 203.6 47 205 C49.5 206 51.5 210 53.5 214 C55.5 218 57.5 223 59 228 C60 231 60.3 234 60.7 237 C62.8 248 62.5 266 60 281.5 C52 283.5 32 283.5 24 281.5 C22 270 20.2 258 20.4 249 C20.6 244 21.2 241 20.6 236 C20.2 230 20.4 224 21.6 219.5 C22.8 214.5 25 209 29 205.6Z" fill="url(#gOr)" filter="url(#b05)"/>
<path d="M40 206 C40.5 230 41 258 41.5 282" stroke="#e88c02" stroke-width="2.2" fill="none" filter="url(#b1)" opacity="0.8"/>
<path d="M41 222 L33 236 M41 232 L32 247 M41.3 243 L31 259 M41.5 254 L32 270 M41 222 L49 235 M41.2 232 L51 246 M41.4 243 L52 258 M41.6 254 L51 269 M30 214 L26 228 M51 213 L56 228" stroke="#ee9402" stroke-width="1" fill="none" opacity="0.55" filter="url(#b05)"/>
<path d="M28 205.5 C32 203 40 203.5 42 205.5 C38 207.5 32 208 28 207.5Z" fill="#fff8e6" filter="url(#b05)"/>
<path d="M61.2 196.5 C63 195 66 193.5 68.3 190.3" stroke="#e6d28a" stroke-width="1.5" fill="none" filter="url(#b05)"/><path d="M55 199.5 C58 199 60 198.5 62 197" stroke="#f6f6f0" stroke-width="1.2" fill="none" filter="url(#b05)"/>
<path d="M31 211 L32.5 216 M43.5 208.5 L45 213 M51.5 220 L53 225 M39 226.5 L40.5 228 M48 235 L49 236 M54 242 L55 244 M56.5 247 L57 253 M38 266 L39 268" stroke="#fff6d0" stroke-width="1.4" fill="none" filter="url(#b05)"/>
</g>
<text x="13.6" y="202.5" font-size="12.5">dsGFP</text>
<text x="26" y="295" font-size="9">0.5cm</text>
<line x1="29.1" y1="297.9" x2="53.5" y2="297.9" stroke="#6a3232" stroke-width="1.3"/>
<rect x="70.30" y="187.60" width="34.40" height="120.80" fill="#15110d"/>
<g clip-path="url(#c2)">
<path d="M90 196 C93 196 96.5 200 97.6 207 L99.2 233 L101.4 264 C101.4 272 99 279 95 286 L92.5 290 L88 250Z" fill="#4b3d17" filter="url(#b1)"/>
<path d="M90 284 L92.6 284 L92.8 308.4 L89.6 308.4Z" fill="#3a2a0c" filter="url(#b1)"/>
<path d="M86 191.6 C89 191.8 92.5 197 93.3 206 L94.2 233 L96 264 C96 272 94.5 279 92 286 L91.7 308.4 L90.3 308.4 L90 286 C84 281 80 274 79.6 264 L79.6 233 L80.4 208 C81 198 83.5 192 86 191.6Z" fill="url(#gOl)" filter="url(#b05)"/>
<ellipse cx="86" cy="193.7" rx="2.6" ry="2" fill="#ead6d8" filter="url(#b05)"/>
</g>
<text x="76.2" y="299.3" font-size="10.2" fill="#fff">1mm</text>
<line x1="83.8" y1="302.6" x2="98" y2="302.6" stroke="#fff" stroke-width="1.2"/>
<rect x="107.60" y="187.60" width="62.70" height="120.80" fill="url(#gBg)"/>
<g clip-path="url(#c3)">
<path d="M144 204 C150 210 156 224 157.5 240 L157 268 L163 279 L158 287 L148 283 L132 285 L120 287 L112 277 L124 268 C126 250 128 232 134 216 C137 209 141 203 144 204Z" fill="#bcbcbc" filter="url(#b2)" opacity="0.85"/>
<path d="M143.7 203.2 C146 205 149.5 210.5 151.5 215 C154 221 156 227 156.8 233 C156.3 245 155.5 258 154.6 270 C156.5 273 159 276.5 160 279.5 C157 282 152 278.5 148 279.5 C142 283 132 281 124 282.5 C119 281.5 115 279 114.3 276 C118 273.5 121.5 272 123.5 269 C126.5 263 127 257 128.3 248 C129.2 240 129.5 236 130.1 233 C131 229 132.5 225 133.5 223 C135 219 137.5 213 139.3 209 C140.5 206.5 142.3 204 143.7 203.2Z" fill="url(#gPk)" filter="url(#b05)"/>
<path d="M143.4 216 C146 217.5 148.8 223 150 232 L152 268 C146 272.5 134 273.5 127 272.5 C128.6 262 129.6 252 130.6 244 C131.4 238 131.8 235 132.6 233 C134.2 227 140 219 143.4 216Z" fill="#dba25c" opacity="0.92" filter="url(#b1)"/>
<path d="M146.5 206.5 C150 211 153.5 219 155.5 228 L156.6 262 L153.2 266 C153.4 250 152.5 236 150 225 C148.6 218.5 147 212 146.5 206.5Z" fill="#f1eee2" opacity="0.8" filter="url(#b05)"/>
<path d="M156 227 C160 228 159 232 161 234 C164 234 168 231 169 235 C169.5 239 164 240.5 160.5 240.5 C158.5 240.5 157.5 239 156.5 238" stroke="#f7f7f5" stroke-width="1.7" fill="none" filter="url(#b05)"/><circle cx="159" cy="231" r="0.7" fill="#556"/>
<path d="M134.6 224.2 L138.4 223.8 L138.8 229 L135.6 229.4Z M136.6 233 L138.2 234.4 M138.6 238.5 L139.2 240" fill="#fffdf4" stroke="#fffdf4" stroke-width="1.2" stroke-linejoin="round" filter="url(#b05)"/>
</g>
<text x="112.5" y="201" font-size="12.5">dsJhamt</text>
<text x="126.8" y="295" font-size="9.7">0.5cm</text>
<line x1="129.8" y1="297.5" x2="154.6" y2="297.5" stroke="#0c0c0c" stroke-width="1.5"/>
<rect x="170.30" y="187.60" width="34.40" height="120.80" fill="#131011"/>
<g clip-path="url(#c4)">
<path d="M178 215 C184 209 194 212 198 228 C199 236 196 244 192 246 C186 240 180 228 178 215Z" fill="#211d27" filter="url(#b3)"/>
<path d="M189 231 L193.4 232 L196 255 L197.8 272 C197 276 195 279 192.6 281 L189.5 272Z" fill="#4a3c12" filter="url(#b1)"/>
<path d="M184.6 233 L190.6 232.5 L192.8 255 L194.6 272 C194 276 192 278 190.6 279.2 C188.5 277 187 274 186.6 271 L185.6 252Z" fill="#8c7824" filter="url(#b05)"/>
<path d="M190.4 279 C192 286 193 292 192.4 297 C192 302 191.4 305 191 308.4" stroke="#8a849c" stroke-width="1.3" fill="none" filter="url(#b05)"/>
<ellipse cx="186.2" cy="230.7" rx="2.9" ry="2.5" fill="#eadde2" filter="url(#b05)"/>
<circle cx="174.4" cy="198.8" r="0.6" fill="#6a5a2a"/><circle cx="187.6" cy="205.4" r="0.6" fill="#5a4a22"/><circle cx="173.6" cy="209.8" r="0.6" fill="#5a4c26"/>
</g>
<text x="176.2" y="298.9" font-size="10.2" fill="#fff">1mm</text>
<line x1="183.8" y1="301.6" x2="198" y2="301.6" stroke="#fff" stroke-width="1.2"/>
<rect x="8.2" y="187.6" width="96.5" height="120.8" fill="none" stroke="#555" stroke-width="0.5"/><rect x="107.6" y="187.6" width="97.1" height="120.8" fill="none" stroke="#555" stroke-width="0.5"/>
</g>
<g id="pg">
<text x="203.5" y="177" font-size="12" font-weight="bold">g</text>
<line x1="257.3" y1="190.1" x2="257.3" y2="301.7" stroke="#555" stroke-width="0.8"/>
<line x1="256.90000000000003" y1="301.3" x2="346.8" y2="301.3" stroke="#555" stroke-width="0.8"/>
<line x1="254.10000000000002" y1="301.3" x2="257.3" y2="301.3" stroke="#555" stroke-width="0.8"/>
<text x="251.10000000000002" y="303.2" font-size="11.5" text-anchor="end">0</text>
<line x1="254.10000000000002" y1="279.14" x2="257.3" y2="279.14" stroke="#555" stroke-width="0.8"/>
<text x="251.10000000000002" y="283.44" font-size="11.5" text-anchor="end">2</text>
<line x1="254.10000000000002" y1="256.98" x2="257.3" y2="256.98" stroke="#555" stroke-width="0.8"/>
<text x="251.10000000000002" y="261.28" font-size="11.5" text-anchor="end">4</text>
<line x1="254.10000000000002" y1="234.82" x2="257.3" y2="234.82" stroke="#555" stroke-width="0.8"/>
<text x="251.10000000000002" y="239.12" font-size="11.5" text-anchor="end">6</text>
<line x1="254.10000000000002" y1="212.66000000000003" x2="257.3" y2="212.66000000000003" stroke="#555" stroke-width="0.8"/>
<text x="251.10000000000002" y="216.96" font-size="11.5" text-anchor="end">8</text>
<line x1="254.10000000000002" y1="190.5" x2="257.3" y2="190.5" stroke="#555" stroke-width="0.8"/>
<text x="251.10000000000002" y="194.8" font-size="11.5" text-anchor="end">10</text>
<line x1="279.7" y1="301.3" x2="279.7" y2="304.3" stroke="#555" stroke-width="0.8"/>
<line x1="323.8" y1="301.3" x2="323.8" y2="304.3" stroke="#555" stroke-width="0.8"/>
<path d="M279.1 211.0 C278.8 211.2 277.7 212.4 276.9 213.0 C276.1 213.6 273.0 215.0 273.0 215.6 C273.0 216.2 276.0 217.5 276.7 218.0 C277.4 218.5 278.6 219.4 278.4 219.9 C278.2 220.4 276.1 221.4 275.0 222.0 C273.9 222.6 270.8 224.3 269.5 225.0 C268.2 225.7 264.8 227.3 264.4 227.9 C264.0 228.5 266.0 229.4 266.4 230.0 C266.8 230.6 267.1 231.9 267.7 232.5 C268.3 233.1 270.0 234.3 271.0 235.0 C272.0 235.7 275.7 237.2 275.9 237.8 C276.1 238.4 273.3 239.3 272.7 240.0 C272.1 240.7 271.2 242.3 271.0 243.2 C270.8 244.1 270.9 246.2 271.4 247.0 C271.9 247.8 273.7 249.2 274.7 250.0 C275.7 250.8 278.6 253.2 279.1 253.6 L279.5 253.6 C280.1 253.2 282.9 250.8 283.9 250.0 C284.9 249.2 286.7 247.8 287.2 247.0 C287.7 246.2 287.8 244.1 287.6 243.2 C287.4 242.3 286.5 240.7 285.9 240.0 C285.3 239.3 282.5 238.4 282.7 237.8 C282.9 237.2 286.6 235.7 287.6 235.0 C288.6 234.3 290.3 233.1 290.9 232.5 C291.5 231.9 291.8 230.6 292.2 230.0 C292.6 229.4 294.6 228.5 294.2 227.9 C293.8 227.3 290.4 225.7 289.1 225.0 C287.8 224.3 284.7 222.6 283.6 222.0 C282.5 221.4 280.4 220.4 280.2 219.9 C280.0 219.4 281.2 218.5 281.9 218.0 C282.6 217.5 285.6 216.2 285.6 215.6 C285.6 215.0 282.5 213.6 281.7 213.0 C280.9 212.4 279.8 211.2 279.5 211.0Z" fill="#a0a0a4"/>
<line x1="266.3" y1="226.3" x2="292.3" y2="226.3" stroke="#222" stroke-width="0.9" stroke-dasharray="1.4 1"/>
<line x1="267.7" y1="232.3" x2="290.90000000000003" y2="232.3" stroke="#222" stroke-width="0.9" stroke-dasharray="1.4 1"/>
<line x1="271.3" y1="243.2" x2="287.3" y2="243.2" stroke="#222" stroke-width="0.9" stroke-dasharray="1.4 1"/>
<circle cx="279.2" cy="215.6" r="1.25" fill="#2a2a2a"/>
<circle cx="279.2" cy="224.3" r="1.25" fill="#2a2a2a"/>
<circle cx="281.6" cy="226.9" r="1.25" fill="#2a2a2a"/>
<circle cx="277" cy="228.3" r="1.25" fill="#2a2a2a"/>
<circle cx="279.2" cy="230.3" r="1.25" fill="#2a2a2a"/>
<circle cx="277" cy="232.9" r="1.25" fill="#2a2a2a"/>
<circle cx="281.6" cy="235.3" r="1.25" fill="#2a2a2a"/>
<circle cx="279.2" cy="242.3" r="1.25" fill="#2a2a2a"/>
<circle cx="279.2" cy="245.4" r="1.25" fill="#2a2a2a"/>
<circle cx="279.2" cy="248.6" r="1.25" fill="#2a2a2a"/>
<path d="M323.3 263.3 C323.2 263.6 322.6 265.4 322.3 266.0 C322.0 266.6 321.7 267.3 320.8 268.0 C319.9 268.7 316.2 270.6 314.9 271.3 C313.6 272.0 311.4 273.0 310.7 273.5 C309.9 274.0 308.5 274.8 308.9 275.4 C309.2 276.0 312.5 277.8 313.5 278.6 C314.5 279.4 316.5 281.0 317.0 282.0 C317.5 283.0 317.3 285.7 317.2 286.6 C317.1 287.5 316.6 288.3 316.1 289.0 C315.6 289.7 314.2 291.2 313.5 291.9 C312.8 292.6 310.7 293.9 310.1 294.5 C309.5 295.1 308.6 295.8 308.9 296.4 C309.2 297.0 311.7 298.6 312.7 299.2 C313.7 299.8 316.2 301.0 316.7 301.3 L330.3 301.3 C330.8 301.0 333.3 299.8 334.3 299.2 C335.3 298.6 337.8 297.0 338.1 296.4 C338.4 295.8 337.5 295.1 336.9 294.5 C336.3 293.9 334.2 292.6 333.5 291.9 C332.8 291.2 331.4 289.7 330.9 289.0 C330.4 288.3 329.9 287.5 329.8 286.6 C329.7 285.7 329.5 283.0 330.0 282.0 C330.5 281.0 332.5 279.4 333.5 278.6 C334.5 277.8 337.8 276.0 338.1 275.4 C338.5 274.8 337.1 274.0 336.3 273.5 C335.6 273.0 333.4 272.0 332.1 271.3 C330.8 270.6 327.1 268.7 326.2 268.0 C325.3 267.3 325.0 266.6 324.7 266.0 C324.4 265.4 323.8 263.6 323.7 263.3Z" fill="#54a0fb"/>
<line x1="309.1" y1="275.7" x2="337.9" y2="275.7" stroke="#222" stroke-width="0.9" stroke-dasharray="1.4 1"/>
<line x1="316.3" y1="286.9" x2="330.7" y2="286.9" stroke="#222" stroke-width="0.9" stroke-dasharray="1.4 1"/>
<line x1="309.1" y1="296.6" x2="337.9" y2="296.6" stroke="#222" stroke-width="0.9" stroke-dasharray="1.4 1"/>
<circle cx="319.5" cy="276" r="1.3" fill="#222"/>
<circle cx="323.9" cy="274.6" r="1.3" fill="#222"/>
<circle cx="328.2" cy="275.3" r="1.3" fill="#222"/>
<circle cx="328.2" cy="277" r="1.3" fill="#222"/>
<circle cx="323.5" cy="285.7" r="1.3" fill="#222"/>
<circle cx="323.5" cy="287.9" r="1.3" fill="#222"/>
<circle cx="321.5" cy="296.3" r="1.3" fill="#222"/>
<circle cx="321.5" cy="298.3" r="1.3" fill="#222"/>
<circle cx="325.5" cy="296.3" r="1.3" fill="#222"/>
<circle cx="325.5" cy="298.3" r="1.3" fill="#222"/>
<text x="322.8" y="261" font-size="16" text-anchor="middle" stroke="#000" stroke-width="0.3">***</text>
<text x="284" y="315.5" font-size="12.5" text-anchor="end" transform="rotate(-20 284 315.5)">dsGFP</text>
<text x="338.6" y="315.2" font-size="12.5" text-anchor="end" transform="rotate(-20 338.6 315.2)">dsJhamt</text>
<text x="220.3" y="250" font-size="11.5" text-anchor="middle" transform="rotate(-90 220.3 250)" letter-spacing="0.15">Length×Width</text>
<text x="234.8" y="248.7" font-size="11.5" text-anchor="middle" transform="rotate(-90 234.8 248.7)" letter-spacing="0.8">(mm×mm)</text>
</g>
<g id="ph">
<text x="350.3" y="177" font-size="12" font-weight="bold">h</text>
<line x1="395.4" y1="186" x2="395.4" y2="299.29999999999995" stroke="#000" stroke-width="0.8"/>
<line x1="395.0" y1="298.9" x2="498.4" y2="298.9" stroke="#000" stroke-width="0.8"/>
<line x1="392.4" y1="298.9" x2="395.4" y2="298.9" stroke="#000" stroke-width="0.8"/>
<text x="391.79999999999995" y="301.4" font-size="10.2" text-anchor="end">0</text>
<line x1="392.4" y1="276.38" x2="395.4" y2="276.38" stroke="#000" stroke-width="0.8"/>
<text x="391.79999999999995" y="278.88" font-size="10.2" text-anchor="end">20</text>
<line x1="392.4" y1="253.85999999999999" x2="395.4" y2="253.85999999999999" stroke="#000" stroke-width="0.8"/>
<text x="391.79999999999995" y="256.36" font-size="10.2" text-anchor="end">40</text>
<line x1="392.4" y1="231.33999999999997" x2="395.4" y2="231.33999999999997" stroke="#000" stroke-width="0.8"/>
<text x="391.79999999999995" y="233.84" font-size="10.2" text-anchor="end">60</text>
<line x1="392.4" y1="208.82" x2="395.4" y2="208.82" stroke="#000" stroke-width="0.8"/>
<text x="391.79999999999995" y="211.32" font-size="10.2" text-anchor="end">80</text>
<line x1="392.4" y1="186.29999999999998" x2="395.4" y2="186.29999999999998" stroke="#000" stroke-width="0.8"/>
<text x="391.79999999999995" y="188.8" font-size="10.2" text-anchor="end">100</text>
<line x1="395.4" y1="298.9" x2="395.4" y2="301.9" stroke="#000" stroke-width="0.8"/>
<text transform="translate(398.00 312) scale(0.86 1)" font-size="11.3" text-anchor="middle">100</text>
<line x1="420.96999999999997" y1="298.9" x2="420.96999999999997" y2="301.9" stroke="#000" stroke-width="0.8"/>
<text transform="translate(422.00 312) scale(0.86 1)" font-size="11.3" text-anchor="middle">110</text>
<line x1="446.53999999999996" y1="298.9" x2="446.53999999999996" y2="301.9" stroke="#000" stroke-width="0.8"/>
<text transform="translate(447.20 312) scale(0.86 1)" font-size="11.3" text-anchor="middle">120</text>
<line x1="472.10999999999996" y1="298.9" x2="472.10999999999996" y2="301.9" stroke="#000" stroke-width="0.8"/>
<text transform="translate(472.60 312) scale(0.86 1)" font-size="11.3" text-anchor="middle">130</text>
<line x1="497.67999999999995" y1="298.9" x2="497.67999999999995" y2="301.9" stroke="#000" stroke-width="0.8"/>
<text transform="translate(496.20 312) scale(0.86 1)" font-size="11.3" text-anchor="middle">140</text>
<line x1="395.4" y1="231.33999999999997" x2="440.5" y2="231.33999999999997" stroke="#222" stroke-width="0.75" stroke-dasharray="12.5 3.6"/>
<line x1="440.5" y1="231.33999999999997" x2="456.2" y2="231.33999999999997" stroke="#f46a78" stroke-width="1.0"/>
<path d="M403.7 298.7 C404.8 298.6 407.8 298.6 410.0 298.3 C412.2 298.0 414.7 297.6 417.0 297.0 C419.3 296.4 422.2 295.8 424.0 295.0 C425.8 294.2 426.8 293.4 428.0 292.5 C429.2 291.6 429.8 290.9 431.0 289.3 C432.2 287.7 434.0 285.0 435.2 283.0 C436.4 281.0 437.1 279.4 438.0 277.5 C438.9 275.6 439.6 274.4 440.8 271.8 C442.0 269.2 443.7 265.4 445.0 262.2 C446.3 259.0 447.5 255.9 448.8 252.5 C450.1 249.1 451.5 245.6 452.8 242.0 C454.1 238.4 455.4 234.7 456.9 231.0 C458.3 227.3 459.7 223.9 461.5 219.6 C463.3 215.3 466.0 208.9 467.8 205.3 C469.6 201.7 470.9 199.9 472.3 198.0 C473.7 196.1 474.8 195.2 476.0 194.0 C477.2 192.8 478.5 191.8 479.7 191.0 C480.9 190.2 481.8 189.6 483.0 189.0 C484.2 188.4 485.2 187.9 486.7 187.5 C488.2 187.1 490.2 186.7 492.0 186.5 C493.8 186.3 496.7 186.2 497.6 186.2" fill="none" stroke="#5b9bd5" stroke-width="1.35" stroke-linecap="round"/>
<path d="M426.8 298.6 C427.2 298.4 428.3 298.0 429.0 297.3 C429.7 296.6 430.4 295.5 431.0 294.2 C431.6 292.9 432.0 291.4 432.5 289.5 C433.0 287.6 433.2 286.4 433.8 283.0 C434.4 279.6 435.2 273.7 435.9 269.0 C436.6 264.3 437.2 261.5 438.0 255.0 C438.8 248.5 439.8 237.2 440.7 230.0 C441.6 222.8 442.3 217.3 443.2 212.0 C444.1 206.7 445.2 201.2 446.0 198.0 C446.8 194.8 447.2 193.9 447.8 192.5 C448.4 191.1 449.0 190.2 449.6 189.4 C450.2 188.6 450.6 187.9 451.2 187.4 C451.8 186.9 452.2 186.6 453.0 186.4 C453.8 186.2 454.9 186.2 456.0 186.2 C457.1 186.2 459.0 186.2 459.6 186.2" fill="none" stroke="#ee7f38" stroke-width="1.35" stroke-linecap="round"/>
<path d="M450 233.2 L461.5 240" stroke="#f5222b" stroke-width="1" fill="none"/><path d="M464.6 241.8 L459 241.5 L461.3 237.4Z" fill="#f5222b"/>
<text x="467.6" y="245" font-size="11" fill="#f5222b">6h</text>
<text x="400.6" y="194" font-size="10.8">N4-N5</text>
<text x="400.6" y="206.6" font-size="10.8">ecdysis</text>
<line x1="456" y1="275.4" x2="465.2" y2="275.4" stroke="#4472c4" stroke-width="1.15" stroke-linecap="round"/>
<line x1="456" y1="284.3" x2="465.2" y2="284.3" stroke="#ed7d31" stroke-width="1.15" stroke-linecap="round"/>
<text x="467.8" y="277.3" font-size="8.4">dsGFP</text>
<text x="467.8" y="286" font-size="8.4">dsJhamt</text>
<text x="441.1" y="327.2" font-size="11.4" text-anchor="middle">Ecdysis time (h)</text>
<text transform="translate(371.9 243.2) rotate(-90) scale(0.945 1)" font-size="12.2" text-anchor="middle">Cumulative frequency (%)</text>
</g>
<g id="pi">
<text x="517.5" y="177" font-size="12" font-weight="bold">i</text>
<line x1="565" y1="185.1" x2="565" y2="300.79999999999995" stroke="#666" stroke-width="1.0"/>
<line x1="564.6" y1="300.4" x2="676" y2="300.4" stroke="#333" stroke-width="0.8"/>
<line x1="562" y1="300.4" x2="565" y2="300.4" stroke="#666" stroke-width="0.8"/>
<text transform="translate(561.20 302.2) scale(1.07 1)" font-size="9.6" text-anchor="end">0</text>
<line x1="562" y1="277.4" x2="565" y2="277.4" stroke="#666" stroke-width="0.8"/>
<text transform="translate(561.20 279.2) scale(1.07 1)" font-size="9.6" text-anchor="end">20</text>
<line x1="562" y1="254.39999999999998" x2="565" y2="254.39999999999998" stroke="#666" stroke-width="0.8"/>
<text transform="translate(561.20 256.2) scale(1.07 1)" font-size="9.6" text-anchor="end">40</text>
<line x1="562" y1="231.39999999999998" x2="565" y2="231.39999999999998" stroke="#666" stroke-width="0.8"/>
<text transform="translate(561.20 233.2) scale(1.07 1)" font-size="9.6" text-anchor="end">60</text>
<line x1="562" y1="208.39999999999998" x2="565" y2="208.39999999999998" stroke="#666" stroke-width="0.8"/>
<text transform="translate(561.20 210.2) scale(1.07 1)" font-size="9.6" text-anchor="end">80</text>
<line x1="562" y1="185.39999999999998" x2="565" y2="185.39999999999998" stroke="#666" stroke-width="0.8"/>
<text transform="translate(561.20 187.2) scale(1.07 1)" font-size="9.6" text-anchor="end">100</text>
<line x1="565.0" y1="300.4" x2="565.0" y2="303.4" stroke="#333" stroke-width="0.8"/>
<text transform="translate(564.90 312.7) scale(0.95 1)" font-size="11.2" text-anchor="middle">240</text>
<line x1="586.93" y1="300.4" x2="586.93" y2="303.4" stroke="#333" stroke-width="0.8"/>
<text transform="translate(587.40 312.7) scale(0.95 1)" font-size="11.2" text-anchor="middle">255</text>
<line x1="608.86" y1="300.4" x2="608.86" y2="303.4" stroke="#333" stroke-width="0.8"/>
<text transform="translate(609.60 312.7) scale(0.95 1)" font-size="11.2" text-anchor="middle">270</text>
<line x1="630.79" y1="300.4" x2="630.79" y2="303.4" stroke="#333" stroke-width="0.8"/>
<text transform="translate(632.00 312.7) scale(0.95 1)" font-size="11.2" text-anchor="middle">285</text>
<line x1="652.72" y1="300.4" x2="652.72" y2="303.4" stroke="#333" stroke-width="0.8"/>
<text transform="translate(654.10 312.7) scale(0.95 1)" font-size="11.2" text-anchor="middle">300</text>
<line x1="674.65" y1="300.4" x2="674.65" y2="303.4" stroke="#333" stroke-width="0.8"/>
<text transform="translate(676.40 312.7) scale(0.95 1)" font-size="11.2" text-anchor="middle">315</text>
<line x1="566.5" y1="231.39999999999998" x2="607.6" y2="231.39999999999998" stroke="#999" stroke-width="1.1" stroke-dasharray="12.4 2.4"/>
<line x1="607.6" y1="231.39999999999998" x2="626.2" y2="231.39999999999998" stroke="#fba5b0" stroke-width="1.4"/>
<path d="M578.7 300.4 C580.2 300.3 585.4 300.1 588.0 299.7 C590.6 299.3 592.5 298.9 594.5 297.9 C596.5 296.8 598.4 295.4 600.0 293.5 C601.6 291.6 602.5 289.8 604.0 286.6 C605.5 283.4 607.4 278.1 608.9 274.3 C610.4 270.5 611.7 267.1 613.0 263.6 C614.3 260.1 615.2 256.7 616.5 253.1 C617.8 249.6 619.5 245.7 621.0 242.3 C622.5 239.0 624.1 236.3 625.5 233.1 C626.9 230.0 628.1 226.5 629.5 223.3 C630.9 220.2 632.3 217.3 633.6 214.4 C634.9 211.5 636.2 208.6 637.5 206.1 C638.8 203.6 640.0 201.6 641.6 199.2 C643.2 196.8 645.5 193.4 647.2 191.6 C648.9 189.8 650.2 189.2 652.0 188.3 C653.8 187.4 656.0 186.7 658.0 186.2 C660.0 185.7 663.0 185.5 664.0 185.4" fill="none" stroke="#5b9bd5" stroke-width="1.35"/>
<path d="M570.0 300.4 C571.2 300.2 574.7 300.0 577.0 298.9 C579.3 297.9 581.8 296.0 583.8 294.1 C585.8 292.1 587.4 289.7 589.0 287.2 C590.6 284.7 592.3 281.3 593.4 279.1 C594.5 277.0 594.5 276.7 595.4 274.3 C596.2 271.9 597.5 268.3 598.5 264.8 C599.5 261.2 600.7 256.9 601.7 253.1 C602.7 249.4 603.6 245.9 604.6 242.3 C605.6 238.8 606.6 235.2 607.5 232.0 C608.4 228.7 609.2 225.7 610.0 222.8 C610.8 219.8 611.5 217.1 612.3 214.4 C613.1 211.7 614.0 209.2 615.0 206.7 C616.0 204.1 616.9 201.7 618.4 199.2 C619.9 196.7 622.1 193.5 623.7 191.6 C625.3 189.8 626.6 189.0 628.0 188.0 C629.4 187.1 630.7 186.5 632.0 186.1 C633.3 185.6 632.8 185.5 635.8 185.4 C638.8 185.3 645.3 185.4 650.0 185.4 C654.7 185.4 661.7 185.4 664.0 185.4" fill="none" stroke="#ee7f38" stroke-width="1.35"/>
<path d="M621.7 234 L632.5 240.8" stroke="#f5222b" stroke-width="1" fill="none"/><path d="M635.7 242.7 L630.1 242.4 L632.4 238.3Z" fill="#f5222b"/>
<text x="637.3" y="247.6" font-size="11.2" fill="#f5222b">13.5h</text>
<text x="570" y="194.6" font-size="11.5">Eclosion</text>
<line x1="626.2" y1="276.3" x2="635.4" y2="276.3" stroke="#4472c4" stroke-width="1.15" stroke-linecap="round"/>
<line x1="626.2" y1="285.3" x2="635.4" y2="285.3" stroke="#ed7d31" stroke-width="1.15" stroke-linecap="round"/>
<text x="638" y="277.9" font-size="8.9">dsGFP</text>
<text x="638" y="286.8" font-size="8.9">dsJhamt</text>
<text x="621.7" y="328.7" font-size="11.4" text-anchor="middle">Eclosion time (h)</text>
<text transform="translate(536.2 245.7) rotate(-90) scale(0.945 1)" font-size="12.2" text-anchor="middle">Cumulative frequency (%)</text>
</g>
</svg></body></html>
